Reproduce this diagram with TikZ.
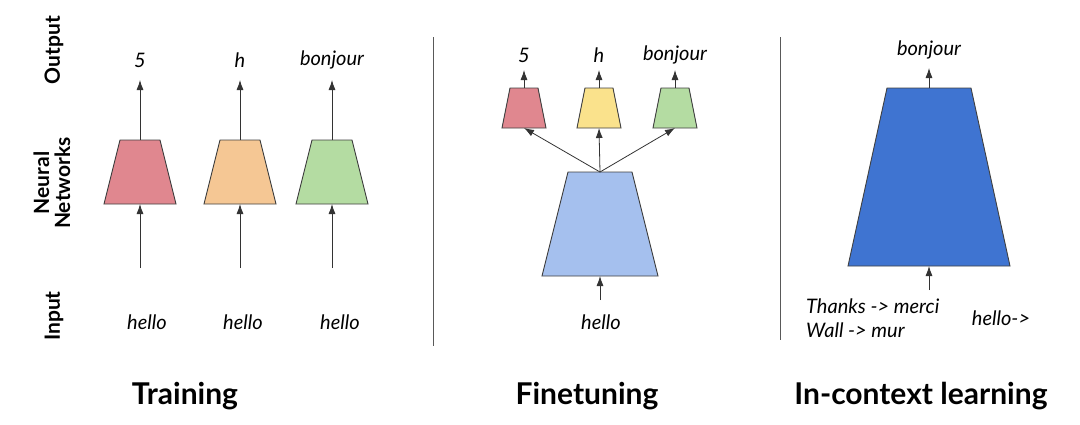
\documentclass[tikz,border=0pt]{standalone}
\usepackage{fontspec}
\setmainfont{Lato}
\usetikzlibrary{arrows.meta}
\definecolor{cpink}{HTML}{E0878F}
\definecolor{corange}{HTML}{F5C794}
\definecolor{cgreen}{HTML}{B4DCA2}
\definecolor{cyellow}{HTML}{FAE28C}
\definecolor{clblue}{HTML}{A5C0EE}
\definecolor{cblue}{HTML}{3F74D1}
\tikzset{
  arr/.style={-{Latex[length=10pt,width=7pt]},draw=black!80,line width=0.8pt},
  trap/.style={draw=black!75,line width=0.9pt},
  lbl/.style={font=\itshape\fontsize{20}{24}\selectfont,inner sep=1pt},
  ttl/.style={font=\bfseries\fontsize{30}{34}\selectfont},
  rowl/.style={font=\bfseries\fontsize{21}{21}\selectfont,rotate=90,align=center},
  sep/.style={draw=black!65,line width=0.9pt}
}
\newcommand{\trapez}[7]{% name, cx, ytop, ybot, halftop, halfbot, color
  \fill[#7] (#2-#6,#4) -- (#2+#6,#4) -- (#2+#5,#3) -- (#2-#5,#3) -- cycle;
  \draw[trap] (#2-#6,#4) -- (#2+#6,#4) -- (#2+#5,#3) -- (#2-#5,#3) -- cycle;
  \coordinate (#1t) at (#2,#3);
  \coordinate (#1b) at (#2,#4);
}
\begin{document}
\begin{tikzpicture}[x=1pt,y=-1pt]
\useasboundingbox (0,0) rectangle (1080,424);
% row labels
\node[rowl] (ro) at (54,50) {Output};
\node[rowl] (rn) at (52,183) {Neural\\Networks};
\node[rowl] (ri) at (54,316) {Input};
% Training
\foreach \n/\x/\c/\o in {a/140/cpink/5, b/240/corange/h, c/332/cgreen/bonjour}{
  \trapez{\n}{\x}{140}{204}{20}{36}{\c}
  \node[lbl] (\n o) at (\x,60) {\o};
  \coordinate (\n in) at (\x,268);
  \draw[arr] (\n t) -- (\x,80);
  \draw[arr] (\n in) -- (\n b);
}
\node[lbl] (h1) at (147,322) {hello};
\node[lbl] (h2) at (243,322) {hello};
\node[lbl] (h3) at (340,322) {hello};
\node[ttl] (t1) at (185,396) {Training};
\coordinate (s1a) at (433,37); \coordinate (s1b) at (433,346);
\draw[sep] (s1a) -- (s1b);
% Finetuning
\trapez{F}{600}{172}{276}{32}{58}{clblue}
\foreach \n/\x/\c/\o in {p/524/cpink/5, q/599/cyellow/h, r/675/cgreen/bonjour}{
  \trapez{\n}{\x}{88}{128}{14}{22}{\c}
  \node[lbl] (\n o) at (\x,55) {\o};
  \draw[arr] (\n t) -- (\x,70);
  \draw[arr] (Ft) -- (\n b);
}
\coordinate (fin) at (600,300);
\draw[arr] (fin) -- (Fb);
\node[lbl] (h4) at (601,322) {hello};
\node[ttl] (t2) at (587,396) {Finetuning};
\coordinate (s2a) at (780,37); \coordinate (s2b) at (780,340);
\draw[sep] (s2a) -- (s2b);
% ICL
\trapez{I}{929}{88}{266}{42}{81}{cblue}
\node[lbl] (io) at (929,50) {bonjour};
\draw[arr] (It) -- (929,68);
\coordinate (iin) at (929,290);
\draw[arr] (iin) -- (Ib);
\node[lbl,anchor=west] (ex1) at (805,306) {Thanks -> merci};
\node[lbl,anchor=west] (ex2) at (805,330) {Wall -> mur};
\node[lbl] (hq) at (1001,318) {hello->};
\node[ttl] (t3) at (921,396) {In-context learning};
\end{tikzpicture}
\end{document}
